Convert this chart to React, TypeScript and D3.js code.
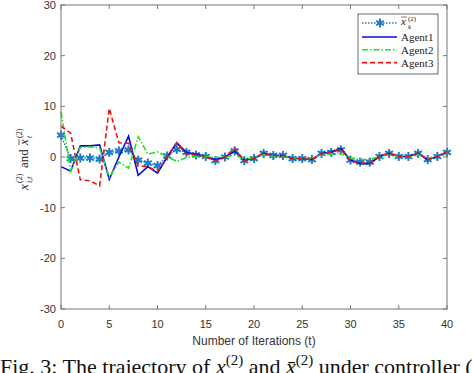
import React from 'react'
import * as d3 from 'd3'

const iterations = d3.range(0, 41)
const avgValues = [4.3, -0.3, -0.2, -0.2, -0.4, 0.9, 1.2, 1.4, -0.6, -1.2, -1.7, 0.2, 1.5, 0.9, 0.4, 0.1, -0.7, 0.0, 1.2, -0.7,
  -0.3, 0.7, 0.3, 0.3, -0.3, -0.3, -0.5, 0.7, 0.9, 1.4, -0.6, -1.0, -1.0, 0.1, 0.7, 0.1, 0.1, 0.7, -0.5, 0.1, 0.9]
const agent1Values = [-1.9, -2.8, 2.2, 2.2, 2.4, -4.4, 0.0, 4.1, -3.6, -1.9, -3.2, 0.0, 2.8, 0.9, 0.6, 0.1, -0.5, 0.0, 1.1, -0.6,
  -0.3, 0.7, 0.3, 0.3, -0.3, -0.3, -0.5, 0.7, 1.0, 1.7, -0.6, -1.3, -1.3, 0.1, 0.7, 0.1, 0.1, 0.7, -0.5, 0.1, 1.0]
const agent2Values = [8.9, -2.7, 1.9, 2.0, 1.8, -4.0, -1.0, -2.2, 4.0, 0.6, 1.0, 0.1, -0.9, -0.1, 0.1, 0.1, -0.1, 0.0, 0.4, -0.4,
  -0.2, 0.5, 0.2, 0.2, -0.2, -0.2, -0.3, 0.5, 0.6, 0.7, -0.3, -0.5, -0.5, 0.1, 0.5, 0.1, 0.1, 0.5, -0.3, 0.1, 0.6]
const agent3Values = [6.1, 4.7, -4.5, -4.7, -5.7, 9.6, 2.8, 2.7, -1.8, -1.9, -2.9, 0.1, 2.8, 0.5, 0.4, 0.1, -0.8, 0.0, 1.8, -0.8,
  -0.3, 0.8, 0.3, 0.3, -0.3, -0.3, -0.5, 0.7, 1.0, 1.5, -0.7, -1.2, -1.2, 0.1, 0.8, 0.1, 0.1, 0.8, -0.5, 0.1, 1.0]
const xTicks = [0, 5, 10, 15, 20, 25, 30, 35, 40]
const yTicks = [-30, -20, -10, 0, 10, 20, 30]

const avgColor = '#1f7dc4'
const series = [
  {name: 'Agent1', values: agent1Values, color: '#0a0ae0', dash: null},
  {name: 'Agent2', values: agent2Values, color: '#22e022', dash: '6 2 1.5 2'},
  {name: 'Agent3', values: agent3Values, color: '#ee1111', dash: '5 3'},
]

const W = 474
const H = 373
const left = 61
const right = 447
const top = 5
const bottom = 309

const Star = ({cx, cy}: {cx: number, cy: number}) => {
  const r = 4.5
  return (
    <g stroke={avgColor} strokeWidth={2}>
      {[0, 60, 120].map(a => {
        const rad = a * Math.PI / 180
        return <line key={a} x1={cx - r * Math.sin(rad)} y1={cy - r * Math.cos(rad)}
          x2={cx + r * Math.sin(rad)} y2={cy + r * Math.cos(rad)} />
      })}
      <circle cx={cx} cy={cy} r={2.2} fill={avgColor} stroke="none" />
    </g>
  )
}

const App = () => {
  const x = d3.scaleLinear().domain([0, 40]).range([left, right])
  const y = d3.scaleLinear().domain([-30, 30]).range([bottom, top])
  const line = d3.line<number>().x((_, i) => x(iterations[i])).y(d => y(d))

  const axisColor = '#777'
  const tickFont = {fontFamily: 'Liberation Sans, Arial, sans-serif', fontSize: 11, fill: '#333'}
  const serif = 'Liberation Serif, Times New Roman, serif'

  return (
    <svg width={W} height={H} style={{position: 'absolute', left: 0, top: 0, background: '#fff'}}>
      <rect x={0} y={0} width={W} height={H} fill="#fff" />
      <path d={line(avgValues) || ''} fill="none" stroke={avgColor} strokeWidth={1.5} strokeDasharray="1.5 1.5" />
      {avgValues.map((v, i) => <Star key={i} cx={x(iterations[i])} cy={y(v)} />)}
      {series.map(s => (
        <path key={s.name} d={line(s.values) || ''} fill="none" stroke={s.color} strokeWidth={1.6}
          strokeDasharray={s.dash || undefined} />
      ))}

      {/* box + ticks */}
      <rect x={left} y={top} width={right - left} height={bottom - top} fill="none" stroke={axisColor} strokeWidth={1} />
      {xTicks.map(t => (
        <g key={t}>
          <line x1={x(t)} x2={x(t)} y1={bottom} y2={bottom - 4} stroke={axisColor} />
          <line x1={x(t)} x2={x(t)} y1={top} y2={top + 4} stroke={axisColor} />
          <text x={x(t)} y={328} textAnchor="middle" {...tickFont}>{t}</text>
        </g>
      ))}
      {yTicks.map(t => (
        <g key={t}>
          <line x1={left} x2={left + 4} y1={y(t)} y2={y(t)} stroke={axisColor} />
          <line x1={right} x2={right - 4} y1={y(t)} y2={y(t)} stroke={axisColor} />
          <text x={56} y={y(t) + 4} textAnchor="end" {...tickFont}>{t}</text>
        </g>
      ))}

      <text x={(left + right) / 2} y={345} textAnchor="middle" fontFamily="Liberation Sans, Arial, sans-serif"
        fontSize={12} fill="#333">Number of Iterations (t)</text>

      {/* y label */}
      <g transform="translate(28,190) rotate(-90)" fontFamily={serif} fontSize={13} fill="#222">
        <text x={0} y={0} fontStyle="italic">x</text>
        <text x={7} y={-6} fontSize={8}>(2)</text>
        <text x={7} y={4} fontSize={8} fontStyle="italic">i,t</text>
        <text x={22} y={0}>and</text>
        <text x={45} y={0} fontStyle="italic">x</text>
        <line x1={45} x2={51} y1={-9} y2={-9} stroke="#222" strokeWidth={0.7} />
        <text x={52} y={-6} fontSize={8}>(2)</text>
        <text x={52} y={4} fontSize={8} fontStyle="italic">t</text>
      </g>

      {/* legend */}
      <g>
        <rect x={358} y={14} width={80} height={60} fill="#fff" stroke="#444" strokeWidth={0.8} />
        <line x1={362} x2={397} y1={23} y2={23} stroke={avgColor} strokeWidth={1.5} strokeDasharray="1.5 1.5" />
        <Star cx={380} cy={23} />
        <g fontFamily={serif} fontSize={11} fill="#222">
          <text x={401} y={25} fontStyle="italic">x</text>
          <line x1={401} x2={407} y1={17} y2={17} stroke="#222" strokeWidth={0.6} />
          <text x={408} y={21} fontSize={7}>(2)</text>
          <text x={408} y={29} fontSize={7} fontStyle="italic">k</text>
        </g>
        {series.map((s, i) => (
          <g key={s.name}>
            <line x1={362} x2={397} y1={37 + i * 12.8} y2={37 + i * 12.8} stroke={s.color} strokeWidth={1.6}
              strokeDasharray={s.dash || undefined} />
            <text x={401} y={41 + i * 12.8} fontFamily={serif} fontSize={11} fill="#222">{s.name}</text>
          </g>
        ))}
      </g>

      {/* caption, partly outside the frame as in the source image */}
      <text x={0} y={374} fontFamily={serif} fontSize={22} fill="#111">
        Fig. 3: The trajectory of <tspan fontStyle="italic">x</tspan><tspan dy={-9} fontSize={15}>(2)</tspan>
        <tspan dy={9}> and </tspan><tspan fontStyle="italic">x̄</tspan><tspan dy={-9} fontSize={15}>(2)</tspan>
        <tspan dy={9}> under controller (</tspan>
      </text>
    </svg>
  )
}

export default App
